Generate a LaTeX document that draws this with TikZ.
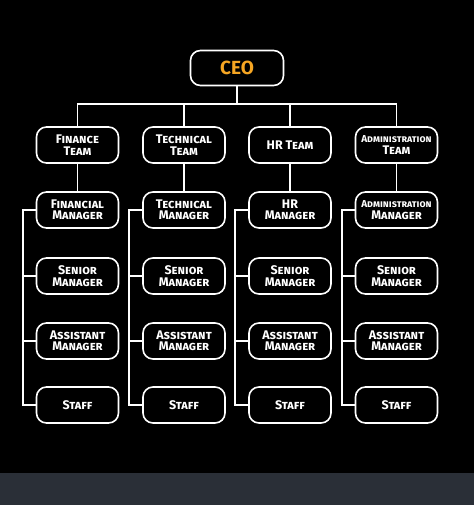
\documentclass[tikz,border=0pt]{standalone}
\usepackage{fontspec}
\setmainfont{Fira Sans}
\definecolor{ceoorange}{HTML}{F6A623}
\definecolor{barcol}{HTML}{2A2F37}
\begin{document}
\begin{tikzpicture}[x=1pt,y=-1pt,
  box/.style={draw=white, line width=1.6pt, fill=black, rounded corners=10pt,
    minimum width=82pt, minimum height=36pt, text=white,
    font=\fontsize{12.5}{11.5}\selectfont\bfseries\scshape, align=center, inner sep=1pt},
  adm/.style={font=\fontsize{10.5}{11.5}\selectfont\bfseries\scshape},
  conn/.style={draw=white, line width=1.6pt}]
\useasboundingbox (0,0) rectangle (474,505);
\fill[black] (0,0) rectangle (474,505);
\fill[barcol] (0,473) rectangle (474,505);
\node[box, minimum width=93pt, minimum height=35pt,
  font=\fontsize{19}{20}\selectfont\bfseries, text=ceoorange] (ceo) at (237,68) {CEO};
% teams
\node[box] (t1) at (77.5,145) {Finance\\Team};
\node[box] (t2) at (184,145) {Technical\\Team};
\node[box] (t3) at (290,145) {HR Team};
\node[box] (t4) at (396.5,145) {{\fontsize{10}{11.5}\selectfont Administration}\\Team};
% managers
\node[box] (m1) at (77.5,210) {Financial\\Manager};
\node[box] (m2) at (184,210) {Technical\\Manager};
\node[box] (m3) at (290,210) {HR\\Manager};
\node[box] (m4) at (396.5,210) {{\fontsize{10}{11.5}\selectfont Administration}\\Manager};
\foreach \i/\x in {1/77.5,2/184,3/290,4/396.5}{
  \node[box] (s\i) at (\x,276) {Senior\\Manager};
  \node[box] (a\i) at (\x,341) {Assistant\\Manager};
  \node[box] (f\i) at (\x,405) {Staff};
}
% top bus
\coordinate (bus) at (0,104);
\draw[conn] (ceo.south) -- (ceo.south |- bus);
\draw[conn] (t1.north) |- (t4.north |- bus) -- (t4.north);
\draw[conn] (t2.north) -- (t2.north |- bus);
\draw[conn] (t3.north) -- (t3.north |- bus);
% columns
\foreach \i in {1,2,3,4}{
  \draw[conn] (t\i.south) -- (m\i.north);
  \coordinate (sp\i) at ([xshift=-13pt]m\i.west);
  \draw[conn] (m\i.west) -- (sp\i) -- (sp\i |- f\i.west) -- (f\i.west);
  \draw[conn] (s\i.west) -- (s\i.west -| sp\i);
  \draw[conn] (a\i.west) -- (a\i.west -| sp\i);
}
\end{tikzpicture}
\end{document}
